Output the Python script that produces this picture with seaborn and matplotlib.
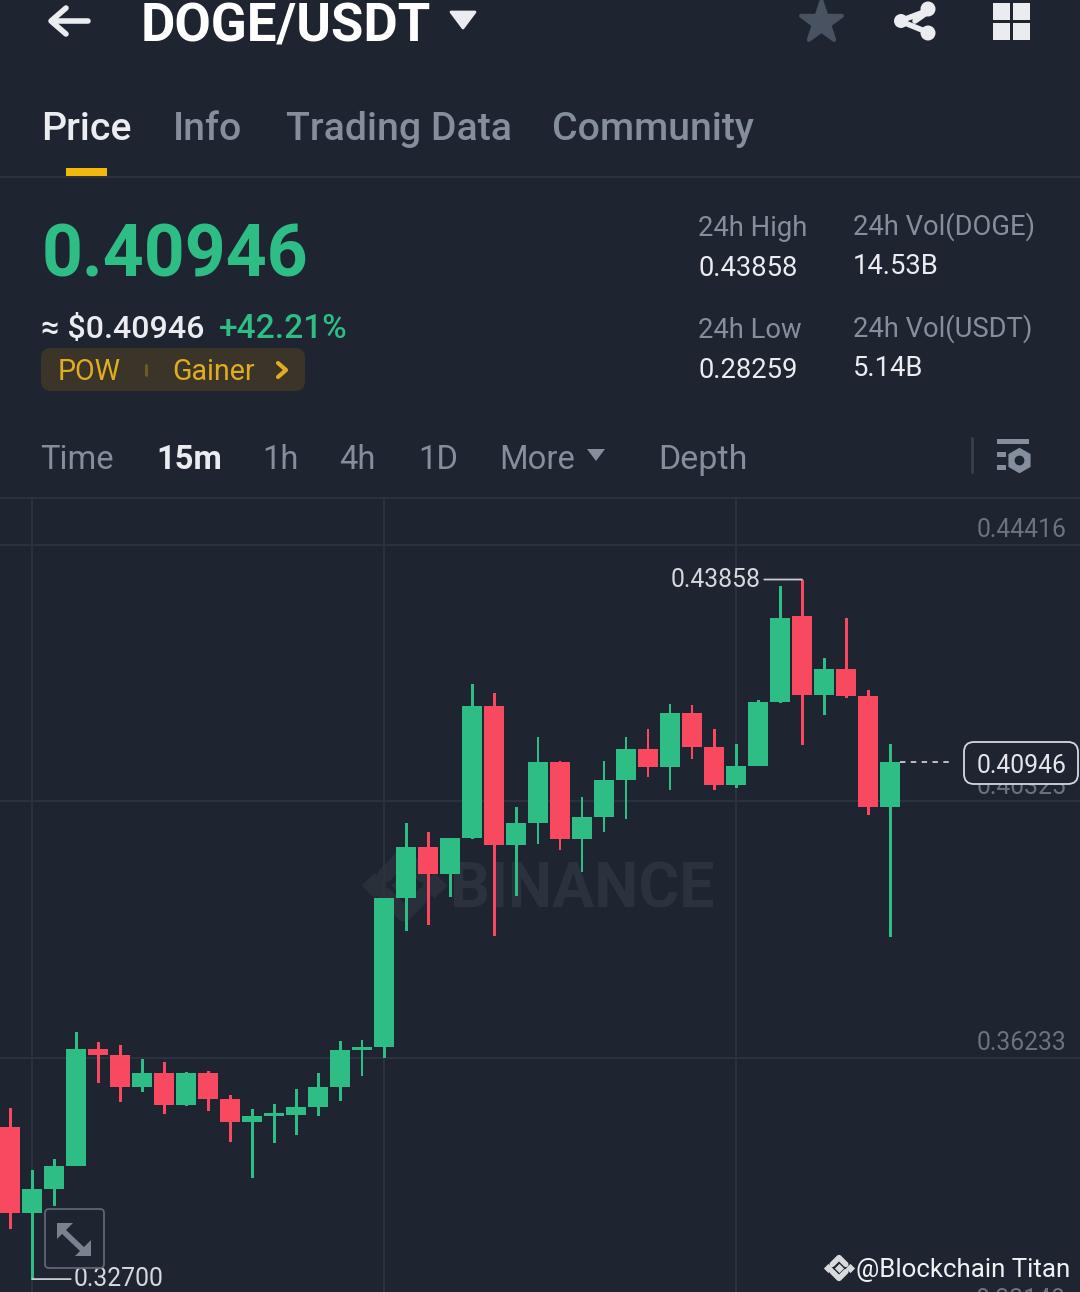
import numpy as np
import pandas as pd
import matplotlib
matplotlib.use("Agg")
import matplotlib.pyplot as plt
import seaborn as sns
from matplotlib.patches import FancyBboxPatch, Polygon, Rectangle, Circle

# 15m candles
opens = [0.35125, 0.33754, 0.34136, 0.34503, 0.36369, 0.36274, 0.35763, 0.35987, 0.35476, 0.35987, 0.35572,
         0.35205, 0.35301, 0.35317, 0.35444, 0.35763, 0.36353, 0.36401, 0.38778, 0.39591, 0.39161, 0.39735,
         0.41840, 0.39623, 0.39974, 0.40947, 0.39719, 0.40070, 0.40660, 0.41154, 0.40867, 0.41729, 0.41186,
         0.40580, 0.40883, 0.41904, 0.43276, 0.42016, 0.42430, 0.42000, 0.40229]
highs = [0.35428, 0.34439, 0.34615, 0.36641, 0.36481, 0.36433, 0.36210, 0.36162, 0.36003, 0.36018, 0.35636,
         0.35412, 0.35492, 0.35731, 0.35987, 0.36497, 0.36513, 0.38778, 0.39974, 0.39831, 0.39735, 0.42191,
         0.42048, 0.40229, 0.41346, 0.40963, 0.40389, 0.40963, 0.41346, 0.41473, 0.41872, 0.41856, 0.41473,
         0.41234, 0.41936, 0.43754, 0.43858, 0.42606, 0.43244, 0.42095, 0.41234]
lows = [0.33498, 0.32700, 0.33865, 0.34503, 0.35827, 0.35524, 0.35684, 0.35333, 0.35460, 0.35380, 0.34886,
        0.34312, 0.34870, 0.34998, 0.35301, 0.35540, 0.35939, 0.36226, 0.38251, 0.38347, 0.38794, 0.39719,
        0.38172, 0.38810, 0.39639, 0.39543, 0.39193, 0.39831, 0.40038, 0.40708, 0.40500, 0.40995, 0.40500,
        0.40532, 0.40883, 0.41888, 0.41218, 0.41697, 0.41968, 0.40102, 0.38156]
closes = [0.33754, 0.34136, 0.34503, 0.36369, 0.36274, 0.35763, 0.35987, 0.35476, 0.35987, 0.35572, 0.35205,
          0.35301, 0.35349, 0.35444, 0.35763, 0.36353, 0.36401, 0.38778, 0.39591, 0.39161, 0.39735, 0.41840,
          0.39623, 0.39974, 0.40947, 0.39719, 0.40070, 0.40660, 0.41154, 0.40867, 0.41729, 0.41186, 0.40580,
          0.40883, 0.41904, 0.43244, 0.42016, 0.42430, 0.42000, 0.40229, 0.40946]

grid_prices = [0.44416, 0.40325, 0.36233, 0.32142]
grid_labels = ["0.44416", "0.40325", "0.36233", "0.32148"]
grid_candles = [1, 17, 33]
high_label = "0.43858"
low_label = "0.32700"
last_label = "0.40946"

BG = "#1E2530"
GREEN = "#2EBD85"
RED = "#F84960"
GREY = "#848E9C"
DIM = "#6B7280"
WHITE = "#EAECEF"
YELLOW = "#E0AC20"
GRID = "#2E343F"

sns.set_theme(style="dark", rc={"figure.facecolor": BG, "axes.facecolor": "none", "savefig.facecolor": BG})
plt.rcParams["font.family"] = ["Roboto", "DejaVu Sans"]

df = pd.DataFrame({"i": range(len(opens)), "open": opens, "high": highs, "low": lows, "close": closes})
df["top"] = df[["open", "close"]].max(axis=1)
df["bottom"] = df[["open", "close"]].min(axis=1)
df["up"] = df["close"] > df["open"]

fig = plt.figure(figsize=(10.8, 12.92), dpi=100)

# layer behind the candles for the faint watermark
back = fig.add_axes([0, 0, 1, 1], zorder=-1, facecolor="none")
back.set_xlim(0, 1080)
back.set_ylim(1292, 0)
back.axis("off")

# chart area runs from y=498 to the bottom edge of the picture
ax = fig.add_axes([0, 0, 1, (1292 - 498) / 1292])
for up, color in [(True, GREEN), (False, RED)]:
    part = df[df["up"] == up]
    sns.barplot(x=part["i"].values, y=(part["high"] - part["low"]).values, bottom=part["low"].values,
                native_scale=True, width=3 / 22, color=color, saturation=1, errorbar=None, ax=ax, zorder=3,
                linewidth=0)
    sns.barplot(x=part["i"].values, y=(part["top"] - part["bottom"]).values, bottom=part["bottom"].values,
                native_scale=True, width=19.5 / 22, color=color, saturation=1, errorbar=None, ax=ax, zorder=4,
                linewidth=0)

ax.set_xticks(grid_candles)
ax.set_yticks(grid_prices)
ax.set_xticklabels([])
ax.set_yticklabels([])
# limits after the ticks, set_yticks would widen them
ax.set_xlim(-10 / 22, 1070 / 22)
ax.set_ylim(0.32494, 0.45158)
ax.set_xlabel("")
ax.set_ylabel("")
ax.tick_params(length=0)
ax.grid(True, color=GRID, lw=1.3)
ax.set_axisbelow(True)
sns.despine(ax=ax, left=True, bottom=True, right=True, top=False)
ax.spines["top"].set_color(GRID)
ax.spines["top"].set_linewidth(1.3)

trans = ax.get_yaxis_transform()
for price, name in zip(grid_prices, grid_labels):
    ax.text(1066 / 1080, price + 0.0004, name, transform=trans, ha="right", va="bottom", color=DIM, fontsize=17.8)

arrow = dict(arrowstyle="-", color="#C9CCD1", lw=1.3, shrinkA=0, shrinkB=0)
ax.annotate(high_label, xy=(36, highs[36]), xytext=(-41, 0), textcoords="offset pixels", ha="right", va="center",
            color="#D5D8DC", fontsize=17.8, arrowprops=arrow, zorder=5)
ax.annotate(low_label, xy=(1, lows[1]), xytext=(42, 0), textcoords="offset pixels", ha="left", va="center",
            color="#D5D8DC", fontsize=17.8, arrowprops=arrow, zorder=5)
ax.plot([40.45, 42.75], [closes[-1], closes[-1]], color="#C9CCD1", lw=1.3, ls=(0, (3, 3)), zorder=5)

# everything around the chart is placed in picture pixels
ui = fig.add_axes([0, 0, 1, 1], zorder=5, facecolor="none")
ui.set_xlim(0, 1080)
ui.set_ylim(1292, 0)
ui.axis("off")


def label(x, y, s, size, color=GREY, weight="normal", ha="left"):
    # va=center sits a bit high for caps and digits
    ui.text(x, y + 0.1 * size, s, fontsize=size, color=color, fontweight=weight, ha=ha, va="center")


def logo(target, cx, cy, k, color):
    # exchange mark: two chevrons and three small diamonds
    target.plot([cx - 19 * k, cx, cx + 19 * k], [cy - 10 * k, cy - 29 * k, cy - 10 * k], color=color, lw=11 * k)
    target.plot([cx - 19 * k, cx, cx + 19 * k], [cy + 10 * k, cy + 29 * k, cy + 10 * k], color=color, lw=11 * k)
    for dx in [-30, 0, 30]:
        target.scatter([cx + dx * k], [cy], marker="D", s=170 * k * k, color=color, linewidths=0)


# header
label(141, 23, "DOGE/USDT", 38, "#FFFFFF", "bold")
ui.plot([52, 88], [21, 21], color=WHITE, lw=4, solid_capstyle="round")
ui.plot([66, 51, 66], [8, 21, 34], color=WHITE, lw=4, solid_capstyle="round", solid_joinstyle="round")
ui.add_patch(Polygon([[451, 12], [475, 12], [463, 28]], closed=True, color=WHITE, lw=2, joinstyle="round"))
ui.scatter([821], [22], marker="*", s=950, color="#485261", edgecolors="#485261", linewidths=3)
ui.plot([915, 932, 900, 932], [21, 9, 21, 34], color=WHITE, lw=4)
for cx, cy, r in [(901, 21, 7), (928, 9, 7.5), (928, 33, 7.5)]:
    ui.add_patch(Circle((cx, cy), r, color=WHITE, lw=0))
for sx, sy in [(993, 3), (1013, 3), (993, 23), (1013, 23)]:
    ui.add_patch(Rectangle((sx, sy), 17, 17, color=WHITE, lw=0))

# tabs
label(41, 127, "Price", 28.3, WHITE, "medium")
label(173, 127, "Info", 28.3, GREY, "medium")
label(286, 127, "Trading Data", 28.3, GREY, "medium")
label(552, 127, "Community", 28.3, GREY, "medium")
ui.add_patch(Rectangle((66, 168), 41, 8, color="#F0B90B", lw=0))
ui.plot([0, 1080], [176.5, 176.5], color=GRID, lw=1.3)

# price block
label(42, 252, "0.40946", 51.5, GREEN, "bold")
label(41, 327, "≈ $0.40946", 23.2, WHITE, "medium")
label(219, 327, "+42.21%", 24, GREEN, "medium")
ui.add_patch(FancyBboxPatch((41 + 10, 348 + 10), 264 - 20, 43 - 20, boxstyle="round,pad=10", color="#3A3528", lw=0))
label(58, 370, "POW", 20.6, YELLOW)
ui.plot([146, 146], [365, 375], color="#6E5E26", lw=2)
label(172, 370, "Gainer", 20.6, YELLOW)
ui.plot([278, 286, 278], [363, 370, 377], color=YELLOW, lw=3)

# 24h stats
label(698, 227, "24h High", 19.7, GREY)
label(698, 267, "0.43858", 19.7, WHITE)
label(853, 225, "24h Vol(DOGE)", 19.7, GREY)
label(853, 265, "14.53B", 19.7, WHITE)
label(698, 329, "24h Low", 19.7, GREY)
label(698, 369, "0.28259", 19.7, WHITE)
label(853, 327, "24h Vol(USDT)", 19.7, GREY)
label(853, 367, "5.14B", 19.7, WHITE)

# interval row
label(40, 458, "Time", 23.6, GREY)
label(156, 458, "15m", 23.6, WHITE, "bold")
label(262, 458, "1h", 23.6, GREY)
label(339, 458, "4h", 23.6, GREY)
label(418, 458, "1D", 23.6, GREY)
label(499, 458, "More", 23.6, GREY)
ui.add_patch(Polygon([[587, 449], [605, 449], [596, 461]], closed=True, color=GREY, lw=0))
label(658, 458, "Depth", 24.5, GREY)
ui.plot([972, 972], [438, 472], color="#3A414D", lw=2)
ui.add_patch(Rectangle((997, 439), 32, 5, color=GREY, lw=0))
ui.add_patch(Rectangle((997, 452), 9, 5, color=GREY, lw=0))
ui.add_patch(Rectangle((997, 465), 9, 5, color=GREY, lw=0))
ui.scatter([1019], [460], marker="h", s=340, color=GREY, linewidths=0)
ui.scatter([1019], [460], marker="o", s=50, color=BG, linewidths=0)

# last price tag covers the 0.40325 label
ui.add_patch(FancyBboxPatch((964 + 10, 742 + 10), 114 - 20, 42 - 20, boxstyle="round,pad=10", facecolor=BG,
                            edgecolor="#D5D8DC", lw=1.3))
label(1022, 764, last_label, 17.8, "#E4E6EA", ha="center")

# expand button
ui.add_patch(FancyBboxPatch((45 + 4, 1209 + 4), 59 - 8, 59 - 8, boxstyle="round,pad=4", facecolor=BG,
                            edgecolor="#5E6673", lw=1.3))
ui.plot([63, 83], [1231, 1250], color="#7A8290", lw=4)
ui.add_patch(Polygon([[57, 1223], [73, 1223], [57, 1239]], closed=True, color="#7A8290", lw=0))
ui.add_patch(Polygon([[91, 1256], [75, 1256], [91, 1240]], closed=True, color="#7A8290", lw=0))

# credit in the corner
logo(ui, 839, 1268, 0.36, "#D8DADD")
label(856, 1268, "@Blockchain Titan", 18.6, "#F0F1F3")

# faint watermark behind the candles
back.text(450, 890, "BINANCE", fontsize=45, fontweight="bold", color="#2C323D", ha="left", va="center")
logo(back, 404, 885, 1.0, "#2A303A")

fig.savefig("out.png", dpi=100)
